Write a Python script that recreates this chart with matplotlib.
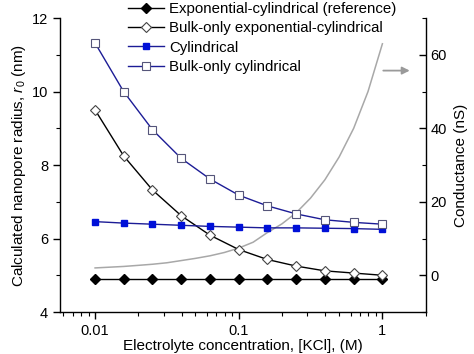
import numpy as np
import matplotlib.pyplot as plt
from matplotlib.ticker import MultipleLocator, LogLocator, NullFormatter

plt.rcParams['font.family'] = ['Liberation Sans', 'DejaVu Sans']
plt.rcParams['mathtext.fontset'] = 'custom'
plt.rcParams['mathtext.it'] = 'Liberation Sans:italic'
plt.rcParams['mathtext.rm'] = 'Liberation Sans'

# -------------------------
# Data
# -------------------------
conc = [0.01, 0.0158, 0.0251, 0.0398, 0.0631, 0.1,
        0.158, 0.251, 0.398, 0.631, 1.0]

r_exp_ref = [4.9, 4.9, 4.9, 4.9, 4.9, 4.9, 4.9, 4.9, 4.9, 4.9, 4.9]
r_bulk_exp = [9.50, 8.25, 7.32, 6.62, 6.09, 5.70, 5.43, 5.25, 5.12, 5.06, 5.00]
r_cyl = [6.46, 6.42, 6.39, 6.36, 6.33, 6.31, 6.29, 6.29, 6.28, 6.27, 6.25]
r_bulk_cyl = [11.32, 10.0, 8.96, 8.18, 7.62, 7.18, 6.89, 6.67, 6.51, 6.44, 6.39]

g_conc = [0.01, 0.0126, 0.0158, 0.02, 0.0251, 0.0316, 0.0398, 0.05,
          0.0631, 0.0794, 0.1, 0.126, 0.158, 0.2, 0.251, 0.316,
          0.398, 0.5, 0.631, 0.794, 1.0]
g_ns = [2.0, 2.2, 2.4, 2.7, 3.0, 3.4, 4.0, 4.6, 5.3, 6.2, 7.4,
        9.0, 11.6, 14.0, 17.0, 21.0, 26.0, 32.2, 40.0, 50.0, 63.0]

# -------------------------
# Figure
# -------------------------
fig = plt.figure(figsize=(4.74, 3.54), dpi=100)
ax = fig.add_axes([0.1266, 0.1186, 0.898 - 0.1266, 0.949 - 0.1186])
ax2 = ax.twinx()
ax.set_zorder(ax2.get_zorder() + 1)
ax.patch.set_visible(False)

blue_line = '#1c1c96'
blue_fill = '#0010d8'

h1, = ax.plot(conc, r_exp_ref, color='black', lw=1.0, marker='D',
              ms=5.5, mfc='black', mec='black',
              label='Exponential-cylindrical (reference)')
h2, = ax.plot(conc, r_bulk_exp, color='black', lw=1.0, marker='D',
              ms=5.5, mfc='white', mec='#444444', mew=0.8,
              label='Bulk-only exponential-cylindrical')
h3, = ax.plot(conc, r_cyl, color=blue_line, lw=1.0, marker='s',
              ms=5, mfc=blue_fill, mec=blue_fill,
              label='Cylindrical')
h4, = ax.plot(conc, r_bulk_cyl, color=blue_line, lw=1.0, marker='s',
              ms=5.5, mfc='white', mec='#55557a', mew=0.8,
              label='Bulk-only cylindrical')

ax2.plot(g_conc, g_ns, color='#a8a8a8', lw=1.1)
ax2.annotate('', xy=(1.62, 55.7), xytext=(0.97, 55.7),
             arrowprops=dict(arrowstyle='-|>', color='#9a9a9a', lw=1.3,
                             mutation_scale=11))

ax.set_xscale('log')
ax.set_xlim(0.0057, 2.0)
ax.set_ylim(4, 12)
ax2.set_ylim(-10, 70)

ax.set_xticks([0.01, 0.1, 1])
ax.set_xticklabels(['0.01', '0.1', '1'])
ax.xaxis.set_minor_locator(LogLocator(base=10, subs=np.arange(2, 10)))
ax.xaxis.set_minor_formatter(NullFormatter())

ax.yaxis.set_major_locator(MultipleLocator(2))
ax.yaxis.set_minor_locator(MultipleLocator(1))
ax2.yaxis.set_major_locator(MultipleLocator(20))
ax2.yaxis.set_minor_locator(MultipleLocator(10))

ax.tick_params(axis='both', which='major', direction='out', length=5,
               width=1, labelsize=10.5)
ax.tick_params(axis='both', which='minor', direction='out', length=3,
               width=0.8)
ax2.tick_params(axis='y', which='major', direction='in', length=5,
                width=1, labelsize=10.5)
ax2.tick_params(axis='y', which='minor', direction='in', length=3,
                width=0.8)

for s in ['top', 'right']:
    ax.spines[s].set_visible(False)
for s in ['top', 'left', 'bottom']:
    ax2.spines[s].set_visible(False)
for s in ax.spines.values():
    s.set_linewidth(1.0)
ax2.spines['right'].set_linewidth(1.0)

ax.set_xlabel('Electrolyte concentration, [KCl], (M)', fontsize=11,
              labelpad=1)
ax.set_ylabel('Calculated nanopore radius, $r_0$ (nm)', fontsize=11,
              labelpad=3)
ax2.set_ylabel('Conductance (nS)', fontsize=11, labelpad=5)

fig.legend(handles=[h1, h2, h3, h4], loc='upper left',
           bbox_to_anchor=(128 / 474, 0.995), frameon=False,
           fontsize=10.8, numpoints=1, handlelength=2.4,
           handletextpad=0.35, labelspacing=0.36, borderpad=0,
           borderaxespad=0)

fig.savefig('out.png', dpi=100)
